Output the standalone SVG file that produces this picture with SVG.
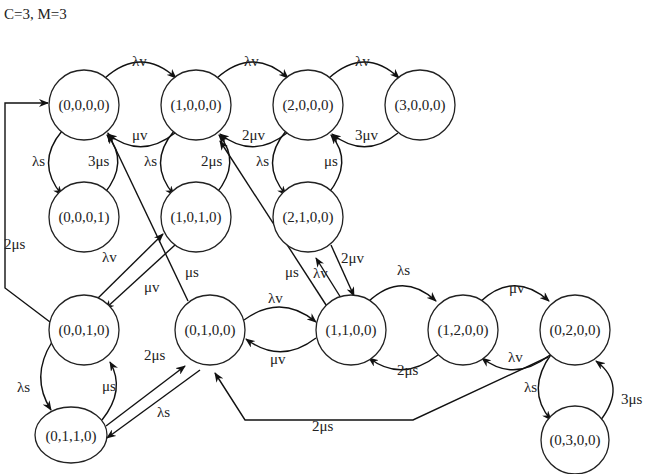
<svg xmlns="http://www.w3.org/2000/svg" width="649" height="474" viewBox="0 0 649 474">
<style>
text{font-family:"Liberation Serif","Times New Roman",serif;font-size:15px;fill:#222}
.n{text-anchor:middle}
circle,ellipse{fill:#fff;stroke:#222;stroke-width:1.3}
.c path,.c polyline{fill:none;stroke:#111;stroke-width:1.4;marker-end:url(#a)}
</style>
<defs><marker id="a" markerWidth="10" markerHeight="8" refX="9" refY="4" orient="auto" markerUnits="userSpaceOnUse"><path d="M0,0L10,4L0,8L3,4z" fill="#111"/></marker></defs>
<rect width="649" height="474" fill="#fff"/>
<text x="4" y="19">C=3, M=3</text>
<g class="c">
<path d="M105,78Q141,46 176,78"/><path d="M217,78Q253,46 288,78"/><path d="M329,78Q365,46 399,78"/>
<path d="M175,133Q141,160 108,134"/><path d="M287,133Q253,160 220,134"/><path d="M398,133Q365,160 332,134"/>
<path d="M62,131Q35,163 62,195"/><path d="M104,194Q130,162 107,135"/>
<path d="M174,131Q147,163 174,195"/><path d="M216,194Q242,162 219,135"/>
<path d="M286,131Q259,163 286,195"/><path d="M328,194Q354,162 331,135"/>
<polyline points="50,322 5,288 5,103 48,103"/>
<path d="M93,303L163,234"/><path d="M175,245L105,309"/>
<path d="M188,301L108,133"/>
<path d="M328,308L220,141"/>
<path d="M341,298L316,258"/>
<path d="M331,245L354,296"/>
<path d="M244,320Q281,293 316,322"/><path d="M316,338Q281,365 246,339"/>
<path d="M368,302Q402,270 436,301"/><path d="M438,355Q402,383 369,358"/>
<path d="M480,302Q514,270 549,301"/><path d="M550,355Q514,383 482,358"/>
<polyline points="548,357 413,420 245,420 215,373"/>
<path d="M552,353Q525,390 551,420"/><path d="M600,421Q628,385 596,361"/>
<path d="M52,342Q30,377 51,410"/><path d="M102,420Q126,390 110,362"/>
<path d="M106,426L185,366"/><path d="M200,370L107,438"/>
</g>
<g id="n0000"><circle cx="84" cy="105" r="35"/><text class="n" x="84" y="110">(0,0,0,0)</text></g>
<g id="n1000"><circle cx="196" cy="105" r="35"/><text class="n" x="196" y="110">(1,0,0,0)</text></g>
<g id="n2000"><circle cx="308" cy="105" r="35"/><text class="n" x="308" y="110">(2,0,0,0)</text></g>
<g id="n3000"><circle cx="420" cy="105" r="35"/><text class="n" x="420" y="110">(3,0,0,0)</text></g>
<g id="n0001"><circle cx="84" cy="217" r="35"/><text class="n" x="84" y="222">(0,0,0,1)</text></g>
<g id="n1010"><circle cx="196" cy="217" r="35"/><text class="n" x="196" y="222">(1,0,1,0)</text></g>
<g id="n2100"><circle cx="308" cy="217" r="35"/><text class="n" x="308" y="222">(2,1,0,0)</text></g>
<g id="n0010"><circle cx="84" cy="330" r="35"/><text class="n" x="84" y="335">(0,0,1,0)</text></g>
<g id="n0100"><circle cx="210" cy="330" r="35"/><text class="n" x="210" y="335">(0,1,0,0)</text></g>
<g id="n1100"><circle cx="351" cy="330" r="35"/><text class="n" x="351" y="335">(1,1,0,0)</text></g>
<g id="n1200"><circle cx="463" cy="330" r="35"/><text class="n" x="463" y="335">(1,2,0,0)</text></g>
<g id="n0200"><circle cx="575" cy="330" r="35"/><text class="n" x="575" y="335">(0,2,0,0)</text></g>
<g id="n0110"><ellipse cx="71" cy="435" rx="36" ry="28"/><text class="n" x="71" y="441">(0,1,1,0)</text></g>
<g id="n0300"><circle cx="575" cy="440" r="34"/><text class="n" x="575" y="445">(0,3,0,0)</text></g>
<g id="labels">
<text x="132" y="66">λv</text><text x="244" y="66">λv</text><text x="355" y="66">λv</text>
<text x="132" y="140">μv</text><text x="242" y="140">2μv</text><text x="355" y="140">3μv</text>
<text x="32" y="166">λs</text><text x="88" y="166">3μs</text>
<text x="144" y="166">λs</text><text x="201" y="166">2μs</text>
<text x="256" y="166">λs</text><text x="324" y="166">μs</text>
<text x="4" y="249">2μs</text>
<text x="102" y="262">λv</text><text x="144" y="292">μv</text>
<text x="185" y="277">μs</text><text x="285" y="277">μs</text>
<text x="313" y="278">λv</text><text x="341" y="263">2μv</text>
<text x="268" y="303">λv</text><text x="270" y="364">μv</text>
<text x="397" y="275">λs</text><text x="397" y="375">2μs</text>
<text x="509" y="293">μv</text><text x="508" y="362">λv</text>
<text x="524" y="392">λs</text><text x="621" y="404">3μs</text>
<text x="144" y="360">2μs</text><text x="157" y="417">λs</text>
<text x="17" y="392">λs</text><text x="102" y="391">μs</text>
<text x="312" y="431">2μs</text>
</g>
</svg>
